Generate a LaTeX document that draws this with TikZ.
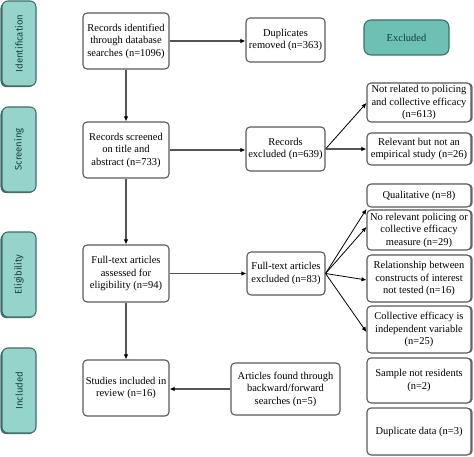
\documentclass[tikz,border=0pt]{standalone}
\usepackage{fontspec}
\setmainfont{Liberation Serif}
\newfontfamily\stagefont{Fira Sans}
\usetikzlibrary{arrows.meta,shadows}
\definecolor{stagefill}{HTML}{95D4CA}
\definecolor{stageedge}{HTML}{3F6E68}
\definecolor{exclfill}{HTML}{6CC1B4}
\definecolor{stagetext}{HTML}{173D39}
\definecolor{boxedge}{HTML}{5A5A5A}
\definecolor{lineg}{HTML}{555555}
\tikzset{
  stagebox/.style={draw=stageedge, line width=1.1pt, fill=stagefill, rounded corners=6pt,
    minimum width=34pt, minimum height=85pt, inner sep=0pt,
    drop shadow={shadow xshift=-1.5pt, shadow yshift=-1.2pt, fill=stageedge, opacity=1}},
  stagelabel/.style={rotate=90, font=\stagefont\fontsize{9.5}{12}\selectfont, text=stagetext},
  mainbox/.style={draw=boxedge, line width=1.1pt, fill=white, rounded corners=4pt,
    inner sep=0pt, align=center, font=\fontsize{10.5}{12.5}\selectfont},
  rbox/.style={mainbox, minimum width=104pt,
    drop shadow={shadow xshift=1.6pt, shadow yshift=0pt, fill=boxedge!90, opacity=1}},
  garrow/.style={draw=lineg, line width=1.2pt, -{Latex[length=5pt,width=4.5pt,color=black]}},
  darrow/.style={draw=black, line width=0.8pt, -{Latex[length=5pt,width=4.5pt]}},
}
\begin{document}
\begin{tikzpicture}[x=1pt,y=-1pt]
\useasboundingbox (0,0) rectangle (474,457);
% stages
\node[stagebox] (sid) at (19,43.5) {};
\node[stagelabel] (lid) at (sid.center) {Identification};
\node[stagebox] (ssc) at (19,149.5) {};
\node[stagelabel] (lsc) at (ssc.center) {Screening};
\node[stagebox] (sel) at (19,274.5) {};
\node[stagelabel] (lel) at (sel.center) {Eligibility};
\node[stagebox] (sin) at (19,390.5) {};
\node[stagelabel] (lin) at (sin.center) {Included};
% main column
\node[mainbox, minimum width=86pt, minimum height=56pt] (rid) at (126,41) {Records identified\\through database\\searches (n=1096)};
\node[mainbox, minimum width=86pt, minimum height=56pt] (rsc) at (126,150) {Records screened\\on title and\\abstract (n=733)};
\node[mainbox, minimum width=86pt, minimum height=57pt] (fta) at (126,273.5) {Full-text articles\\assessed for\\eligibility (n=94)};
\node[mainbox, minimum width=86pt, minimum height=56pt] (sti) at (126,388) {Studies included in\\review (n=16)};
% middle column
\node[mainbox, minimum width=79pt, minimum height=44pt] (dup) at (285.5,40) {Duplicates\\removed (n=363)};
\node[mainbox, minimum width=79pt, minimum height=44pt] (rex) at (285.5,149) {Records\\excluded (n=639)};
\node[mainbox, minimum width=78pt, minimum height=43pt] (fte) at (286,273.5) {Full-text articles\\excluded (n=83)};
\node[mainbox, minimum width=109pt, minimum height=52pt] (afs) at (285.5,389) {Articles found through\\backward/forward\\searches (n=5)};
% excluded label
\node[draw=stageedge, line width=1.1pt, fill=exclfill, rounded corners=7pt, minimum width=85pt, minimum height=35pt,
  font=\fontsize{10.5}{12}\selectfont, text=stagetext] (exc) at (406.5,37.5) {Excluded};
% right column
\node[rbox, minimum height=39pt] (r1) at (419,102.5) {Not related to policing\\and collective efficacy\\(n=613)};
\node[rbox, minimum height=32pt] (r2) at (419,149) {Relevant but not an\\empirical study (n=26)};
\node[rbox, minimum height=23pt] (r3) at (419,195.5) {Qualitative (n=8)};
\node[rbox, minimum height=40pt] (r4) at (419,230) {No relevant policing or\\collective efficacy\\measure (n=29)};
\node[rbox, minimum height=47pt] (r5) at (419,278.5) {Relationship between\\constructs of interest\\not tested (n=16)};
\node[rbox, minimum height=47pt] (r6) at (419,329.5) {Collective efficacy is\\independent variable\\(n=25)};
\node[rbox, minimum height=45pt] (r7) at (419,380.5) {Sample not residents\\(n=2)};
\node[rbox, minimum height=47pt] (r8) at (419,431.5) {Duplicate data (n=3)};
% connectors
\draw[garrow] (rid) -- (rsc);
\draw[garrow] (rsc) -- (fta);
\draw[garrow] (fta) -- (sti);
\draw[garrow] (rid.east) -- (dup.west |- rid.east);
\draw[garrow] (rsc.east) -- (rex.west |- rsc.east);
\draw[garrow] (fta.east) -- (fte.west |- fta.east);
\draw[garrow] (afs.west) -- (sti.east |- afs.west);
\draw[darrow] (rex.east) -- ([yshift=-0.5pt]r1.west);
\draw[garrow] (rex.east) -- (r2.west |- rex.east);
\draw[darrow] (fte.east) -- ([yshift=-1.5pt]r3.south west);
\draw[darrow] (fte.east) -- ([yshift=3pt]r4.west);
\draw[darrow] (fte.east) -- ([yshift=-1.5pt]r5.west);
\draw[darrow] (fte.east) -- ([yshift=-2.5pt]r6.west);
\end{tikzpicture}
\end{document}
